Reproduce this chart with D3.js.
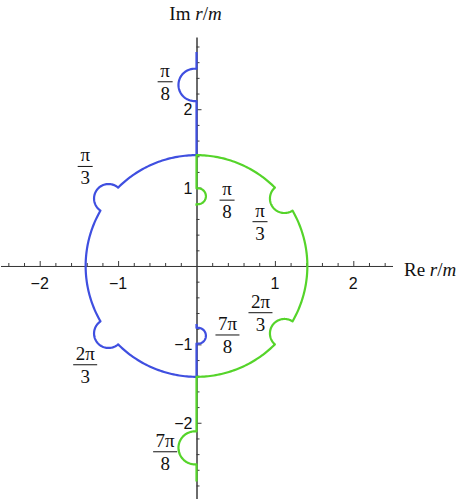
<!DOCTYPE html>
<html><head><meta charset="utf-8">
<script src="https://cdn.jsdelivr.net/npm/d3@7"></script>
<style>html,body{margin:0;padding:0;background:#fff;} svg{display:block;}</style>
</head><body><svg id="chart" width="474" height="499"></svg>
<script>
// ---------------- data ----------------
const xTickValues = [-2, -1, 1, 2];
const xTickLabels = ["−2", "−1", "1", "2"];
const yTickValues = [-2, -1, 1, 2];
const yTickLabels = ["−2", "−1", "1", "2"];
const minorStep = 0.2;

const circleRadius = 1.414;           // |r/m| of the main contour
const circleBumpRadius = 0.185;       // radius of the detours on the circle

// blue branch
const blueImagStart = 2.73;           // top end on the imaginary axis
const blueImagEnd = -0.74;            // end near the origin
const blueArc = [90, 270];            // degrees, travelled counter-clockwise
const blueCircleBumps = [{angle: 142.5, side: "out"}, {angle: 217.5, side: "out"}];
const blueAxisBumps = [
  {center: 2.31, half: 0.205, depth: -0.23},
  {center: -0.89, half: 0.10, depth: 0.12}
];

// green branch
const greenImagStart = 0.77;
const greenImagEnd = -2.75;
const greenArc = [90, -90];           // travelled clockwise
const greenCircleBumps = [{angle: 37.5, side: "in"}, {angle: -37.5, side: "in"}];
const greenAxisBumps = [
  {center: 0.89, half: 0.10, depth: 0.12},
  {center: -2.32, half: 0.21, depth: -0.23}
];

// fraction annotations: numerator, denominator, anchor (data units)
const fractionNums = ["π", "π", "π", "π", "2π", "7π", "2π", "7π"];
const fractionDens = ["8", "3", "8", "3", "3", "8", "3", "8"];
const fractionRe   = [-0.40, -1.42, 0.39, 0.81, -1.42, 0.395, 0.816, -0.40];
const fractionIm   = [2.35, 1.27, 0.84, 0.565, -1.26, -0.88, -0.596, -2.37];

// ---------------- geometry helpers ----------------
const svg = d3.select("#chart");
const x = d3.scaleLinear().domain([-2.5, 2.5]).range([0.5, 392.5]);
const y = d3.scaleLinear().domain([-2.97, 2.92]).range([498.8, 37.1]);

function arcThrough(cx, cy, r, t1, t2, tf, n) {
  const TAU = 2 * Math.PI;
  const mod = a => ((a % TAU) + TAU) % TAU;
  const ccw = mod(t2 - t1);
  const sweep = mod(tf - t1) < ccw ? ccw : ccw - TAU;
  const pts = [];
  for (let i = 0; i <= n; i++) {
    const t = t1 + sweep * i / n;
    pts.push([cx + r * Math.cos(t), cy + r * Math.sin(t)]);
  }
  return pts;
}
function axisBump(b, yFrom, yTo) {
  const d = Math.abs(b.depth), h = b.half;
  const a = (d * d - h * h) / (2 * d);
  const rho = d - a;
  const cx = Math.sign(b.depth) * a;
  const t1 = Math.atan2(yFrom - b.center, -cx);
  const t2 = Math.atan2(yTo - b.center, -cx);
  const tf = b.depth > 0 ? 0 : Math.PI;
  return arcThrough(cx, b.center, rho, t1, t2, tf, 40);
}
function circlePath(startDeg, endDeg, bumps) {
  const R = circleRadius, rho = circleBumpRadius;
  const rad = Math.PI / 180;
  const delta = 2 * Math.asin(rho / (2 * R)) / rad;
  const s = Math.sign(endDeg - startDeg);
  const sorted = bumps.slice().sort((p, q) => s * (p.angle - q.angle));
  let pts = [], cur = startDeg;
  const mainArc = (a0, a1) => {
    const n = Math.max(2, Math.ceil(Math.abs(a1 - a0) / 1));
    for (let i = 0; i <= n; i++) {
      const a = (a0 + (a1 - a0) * i / n) * rad;
      pts.push([R * Math.cos(a), R * Math.sin(a)]);
    }
  };
  sorted.forEach(b => {
    const aIn = b.angle - s * delta, aOut = b.angle + s * delta;
    mainArc(cur, aIn);
    const cx = R * Math.cos(b.angle * rad), cy = R * Math.sin(b.angle * rad);
    const p1 = [R * Math.cos(aIn * rad), R * Math.sin(aIn * rad)];
    const p2 = [R * Math.cos(aOut * rad), R * Math.sin(aOut * rad)];
    const t1 = Math.atan2(p1[1] - cy, p1[0] - cx);
    const t2 = Math.atan2(p2[1] - cy, p2[0] - cx);
    const tf = b.angle * rad + (b.side === "out" ? 0 : Math.PI);
    pts = pts.concat(arcThrough(cx, cy, rho, t1, t2, tf, 60));
    cur = aOut;
  });
  mainArc(cur, endDeg);
  return pts;
}

// blue: down the imaginary axis, round the left half, up to the origin
function bluePoints() {
  const [b1, b2] = blueAxisBumps;
  let p = [[0, blueImagStart], [0, b1.center + b1.half]];
  p = p.concat(axisBump(b1, b1.center + b1.half, b1.center - b1.half));
  p.push([0, circleRadius]);
  p = p.concat(circlePath(blueArc[0], blueArc[1], blueCircleBumps));
  p.push([0, b2.center - b2.half]);
  p = p.concat(axisBump(b2, b2.center - b2.half, b2.center + b2.half));
  p.push([0, blueImagEnd]);
  return p;
}
// green: up from near the origin, round the right half, down the axis
function greenPoints() {
  const [g1, g2] = greenAxisBumps;
  let p = [[0, greenImagStart], [0, g1.center - g1.half]];
  p = p.concat(axisBump(g1, g1.center - g1.half, g1.center + g1.half));
  p.push([0, circleRadius]);
  p = p.concat(circlePath(greenArc[0], greenArc[1], greenCircleBumps));
  p.push([0, g2.center + g2.half]);
  p = p.concat(axisBump(g2, g2.center + g2.half, g2.center - g2.half));
  p.push([0, greenImagEnd]);
  return p;
}

// ---------------- axes ----------------
const axisColor = "#3a3a3a";
const minorX = d3.range(-2.4, 2.41, minorStep).filter(v => Math.abs(v - Math.round(v)) > 1e-6);
const minorY = d3.range(-2.8, 2.81, minorStep).filter(v => Math.abs(v - Math.round(v)) > 1e-6);

function styleAxis(g) {
  g.selectAll("path,line").attr("stroke", axisColor).attr("stroke-width", 1);
  g.selectAll("text").remove();
}
svg.append("g").attr("transform", `translate(0,${y(0)})`)
  .call(d3.axisTop(x).tickValues(minorX).tickSize(3).tickSizeOuter(0).tickFormat(""))
  .call(styleAxis);
svg.append("g").attr("transform", `translate(0,${y(0)})`)
  .call(d3.axisTop(x).tickValues(xTickValues).tickSize(5).tickSizeOuter(0).tickFormat(""))
  .call(styleAxis);
svg.append("g").attr("transform", `translate(${x(0)},0)`)
  .call(d3.axisRight(y).tickValues(minorY).tickSize(3).tickSizeOuter(0).tickFormat(""))
  .call(styleAxis);
svg.append("g").attr("transform", `translate(${x(0)},0)`)
  .call(d3.axisRight(y).tickValues(yTickValues).tickSize(5).tickSizeOuter(0).tickFormat(""))
  .call(styleAxis);

const tickFont = "'Liberation Sans', Arial, Helvetica, sans-serif";
svg.append("g").selectAll("text").data(xTickValues).join("text")
  .attr("x", d => x(d)).attr("y", y(0) + 23)
  .attr("text-anchor", "middle")
  .attr("font-family", tickFont).attr("font-size", 16).attr("fill", "#111")
  .text((d, i) => xTickLabels[i]);
svg.append("g").selectAll("text").data(yTickValues).join("text")
  .attr("x", x(0) - 4).attr("y", d => y(d) + 6)
  .attr("text-anchor", "end")
  .attr("font-family", tickFont).attr("font-size", 16).attr("fill", "#111")
  .text((d, i) => yTickLabels[i]);

// axis titles
const serif = "'Liberation Serif', 'Times New Roman', Times, serif";
function title(xp, yp, anchor, word) {
  const t = svg.append("text").attr("x", xp).attr("y", yp).attr("text-anchor", anchor)
    .attr("font-family", serif).attr("font-size", 19).attr("fill", "#111");
  t.append("tspan").text(word + " ");
  t.append("tspan").attr("font-style", "italic").text("r");
  t.append("tspan").text("/");
  t.append("tspan").attr("font-style", "italic").text("m");
}
title(x(0) - 1, 20, "middle", "Im");
title(404, 276, "start", "Re");

// ---------------- curves ----------------
const line = d3.line().x(d => x(d[0])).y(d => y(d[1]));
svg.append("path").datum(bluePoints()).attr("d", line)
  .attr("fill", "none").attr("stroke", "#3f4fe0").attr("stroke-width", 2.2)
  .attr("stroke-linejoin", "round");
svg.append("path").datum(greenPoints()).attr("d", line)
  .attr("fill", "none").attr("stroke", "#55d42a").attr("stroke-width", 2.2)
  .attr("stroke-linejoin", "round");

// ---------------- fraction labels ----------------
const fr = svg.append("g").selectAll("g").data(fractionNums).join("g")
  .attr("transform", (d, i) => `translate(${x(fractionRe[i])},${y(fractionIm[i])})`);
fr.append("text").attr("y", -5).attr("text-anchor", "middle")
  .attr("font-family", serif).attr("font-size", 19).attr("fill", "#111")
  .text(d => d);
fr.append("text").attr("y", 18).attr("text-anchor", "middle")
  .attr("font-family", serif).attr("font-size", 19).attr("fill", "#111")
  .text((d, i) => fractionDens[i]);
fr.append("line")
  .attr("x1", d => d.length > 1 ? -12 : -7.5).attr("x2", d => d.length > 1 ? 12 : 7.5)
  .attr("stroke", "#111").attr("stroke-width", 1);
</script></body></html>
